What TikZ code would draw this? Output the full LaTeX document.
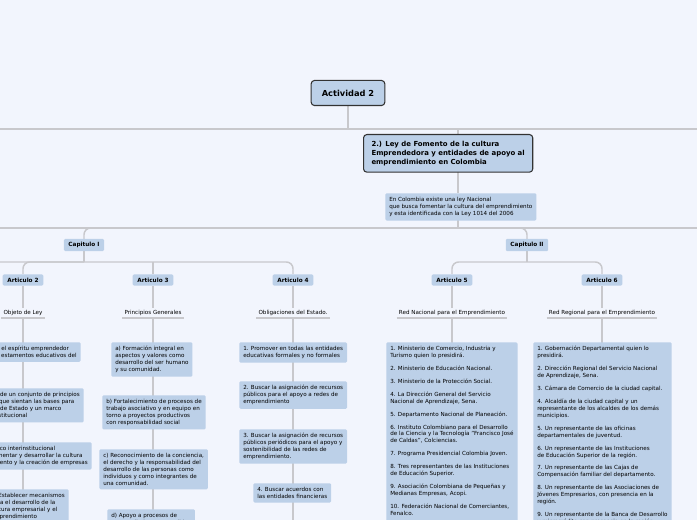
\documentclass[tikz,border=0pt]{standalone}
\usepackage{fontspec}
\setmainfont{DejaVu Sans}
\definecolor{bg}{HTML}{F2F5FD}
\definecolor{box}{HTML}{BCD0E8}
\definecolor{ln}{HTML}{C8C8CC}
\newcommand{\fs}{\fontsize{4.2pt}{5.2pt}\selectfont}
\tikzset{
  top/.style={draw=black!80,fill=box,rounded corners=2.5pt,line width=0.8pt,font=\fontsize{6.2pt}{7.5pt}\selectfont\bfseries,inner xsep=8pt,inner ysep=7pt},
  sub/.style={fill=box,rounded corners=1pt,font=\fontsize{4.3pt}{5.2pt}\selectfont\bfseries,inner xsep=3.5pt,inner ysep=2.5pt},
  item/.style={fill=box,rounded corners=1pt,font=\fs,align=left,inner xsep=3pt,inner ysep=3pt},
  lab/.style={font=\fs,inner sep=1.5pt},
  con/.style={draw=ln,line width=1.1pt,rounded corners=5pt},
}
\begin{document}
\begin{tikzpicture}[x=0.75pt,y=-0.75pt]
\fill[bg] (0,0) rectangle (697,520);
\clip (0,0) rectangle (697,520);
% connectors
\draw[con] (0,129) -- (697,129);
\draw[con] (348,106) -- (348,129);
\draw[con] (458,129) -- (458,134);
\draw[con] (458,169) -- (458,193);
\draw[con] (0,228) -- (697,228);
\draw[con] (458,217) -- (458,228);
\draw[con] (300,228) -- (84,228) -- (84,240);
\draw[con] (458,228) -- (527,228) -- (527,240);
\draw[con] (84,251) -- (84,262);
\draw[con] (0,262) -- (293,262) -- (293,274);
\draw[con] (153,262) -- (153,274);
\draw[con] (84,262) -- (23,262) -- (23,274);
\draw[con] (527,251) -- (527,262);
\draw[con] (452,274) -- (452,262) -- (602,262) -- (602,274);
\foreach \x in {23,153,293,452,602} \draw[con] (\x,286) -- (\x,520);
% top
\node[top] (act) at (348,93) {Actividad 2};
\node[top,anchor=north west,align=left,font=\fontsize{5.2pt}{6.6pt}\selectfont\bfseries,inner xsep=6pt,inner ysep=5pt] (ley) at (363,134) {2.) Ley de Fomento de la cultura\\Emprendedora y entidades de apoyo al\\emprendimiento en Colombia};
\node[item,anchor=north west] (col) at (385,193) {En Colombia existe una ley Nacional\\que busca fomentar la cultura del emprendimiento\\y esta identificada con la Ley 1014 del 2006};
\node[sub] (cap1) at (84,245) {Capitulo I};
\node[sub] (cap2) at (527,245) {Capitulo II};
\node[sub] (a2) at (23,280) {Articulo 2};
\node[sub] (a3) at (153,280) {Articulo 3};
\node[sub] (a4) at (293,280) {Articulo 4};
\node[sub] (a5) at (452,280) {Articulo 5};
\node[sub] (a6) at (602,280) {Articulo 6};
% labels
\foreach \x/\t/\n in {23/Objeto de Ley/l2,153/Principios Generales/l3,293/Obligaciones del Estado./l4,452/Red Nacional para el Emprendimiento/l5,602/Red Regional para el Emprendimiento/l6}{
  \node[lab,fill=bg] (\n) at (\x,313) {\t};
  \draw[ln,line width=0.8pt] (\n.south west) -- (\n.south east);
}
% art 2
\node[item,anchor=north east] (b21) at (81,342) {a) Promover el espíritu emprendedor\\en todos los estamentos educativos del};
\node[item,anchor=north east] (b22) at (84,388) {b) Disponer de un conjunto de principios\\normativos que sientan las bases para\\una política de Estado y un marco\\jurídico e institucional};
\node[item,anchor=north east] (b23) at (92,442) {c) Crear un marco interinstitucional\\que permita fomentar y desarrollar la cultura\\del emprendimiento y la creación de empresas};
\node[item,anchor=north east] (b24) at (69,489) {d) Establecer mecanismos\\para el desarrollo de la\\cultura empresarial y el\\emprendimiento};
% art 3
\node[item,anchor=north west] (b31) at (111,342) {a) Formación integral en\\aspectos y valores como\\desarrollo del ser humano\\y su comunidad.};
\node[item,anchor=north west] (b32) at (102,395) {b) Fortalecimiento de procesos de\\trabajo asociativo y en equipo en\\torno a proyectos productivos\\con responsabilidad social};
\node[item,anchor=north west] (b33) at (99,449) {c) Reconocimiento de la conciencia,\\el derecho y la responsabilidad del\\desarrollo de las personas como\\individuos y como integrantes de\\una comunidad.};
\node[item,anchor=north west] (b34) at (107,509) {d) Apoyo a procesos de\\emprendimiento sostenibles};
% art 4
\node[item,anchor=north west] (b41) at (239,342) {1. Promover en todas las entidades\\educativas formales y no formales};
\node[item,anchor=north west] (b42) at (239,381) {2. Buscar la asignación de recursos\\públicos para el apoyo a redes de\\emprendimiento};
\node[item,anchor=north west] (b43) at (239,429) {3. Buscar la asignación de recursos\\públicos periódicos para el apoyo y\\sostenibilidad de las redes de\\emprendimiento.};
\node[item,anchor=north west] (b44) at (253,483) {4. Buscar acuerdos con\\las entidades financieras};
% art 5
\node[item,anchor=north west] (b5) at (386,342) {1. Ministerio de Comercio, Industria y\\Turismo quien lo presidirá.\\[4.5pt]
2. Ministerio de Educación Nacional.\\[4.5pt]
3. Ministerio de la Protección Social.\\[4.5pt]
4. La Dirección General del Servicio\\Nacional de Aprendizaje, Sena.\\[4.5pt]
5. Departamento Nacional de Planeación.\\[4.5pt]
6. Instituto Colombiano para el Desarrollo\\de la Ciencia y la Tecnología "Francisco José\\de Caldas", Colciencias.\\[4.5pt]
7. Programa Presidencial Colombia Joven.\\[4.5pt]
8. Tres representantes de las Instituciones\\de Educación Superior.\\[4.5pt]
9. Asociación Colombiana de Pequeñas y\\Medianas Empresas, Acopi.\\[4.5pt]
10. Federación Nacional de Comerciantes,\\Fenalco.\\[4.5pt]
11. Un representante de las\\fundaciones.\\[4.5pt]
12. Un representante};
% art 6
\node[item,anchor=north west] (b6) at (533,342) {1. Gobernación Departamental quien lo\\presidirá.\\[4.5pt]
2. Dirección Regional del Servicio Nacional\\de Aprendizaje, Sena.\\[4.5pt]
3. Cámara de Comercio de la ciudad capital.\\[4.5pt]
4. Alcaldía de la ciudad capital y un\\representante de los alcaldes de los demás\\municipios.\\[4.5pt]
5. Un representante de las oficinas\\departamentales de juventud.\\[4.5pt]
6. Un representante de las Instituciones\\de Educación Superior de la región.\\[4.5pt]
7. Un representante de las Cajas de\\Compensación familiar del departamento.\\[4.5pt]
8. Un representante de las Asociaciones de\\Jóvenes Empresarios, con presencia en la\\región.\\[4.5pt]
9. Un representante de la Banca de Desarrollo\\y microcrédito con presencia en la región.\\[4.5pt]
10. Un representante de las\\fundaciones.};
\end{tikzpicture}
\end{document}
